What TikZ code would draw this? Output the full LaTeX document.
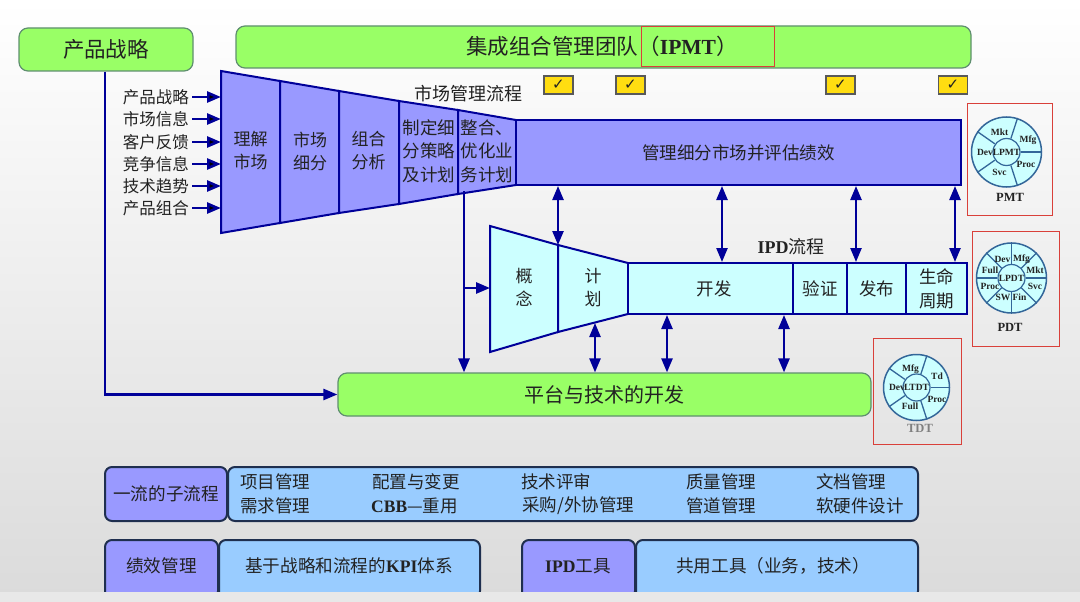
\documentclass[tikz,border=0pt]{standalone}
\usepackage{fontspec}
\setmainfont{Liberation Serif}
\newfontfamily\cjk{Noto Sans CJK SC}
\newfontfamily\dejavu{DejaVu Sans}
\newfontfamily\latinfont{Liberation Serif}
\newcommand{\latin}[1]{{\latinfont\bfseries #1}}
\usetikzlibrary{arrows.meta,shadings}
\definecolor{navy}{HTML}{000099}
\definecolor{limebox}{HTML}{99FF66}
\definecolor{limeline}{HTML}{5F8F6F}
\definecolor{violetbox}{HTML}{9999FF}
\definecolor{cyanbox}{HTML}{CCFFFF}
\definecolor{skybox}{HTML}{99CCFF}
\definecolor{darkline}{HTML}{1F2F4F}
\definecolor{wheelline}{HTML}{336699}
\definecolor{frame}{HTML}{D9403A}
\definecolor{inktext}{HTML}{222222}
\definecolor{tickfill}{HTML}{FFDD11}
\tikzset{limebar/.style = {shape=rectangle,rounded corners=9,draw=limeline,fill=limebox,line width=1.2,text=inktext,font=\fontsize{21.5}{25}\selectfont\cjk}}
\tikzset{bluebar/.style = {shape=rectangle,draw=navy,line width=2,text=inktext,align=center,font=\fontsize{17.5}{24}\selectfont\cjk}}
\tikzset{stage/.style = {text=inktext,align=center,inner sep=0,font=\fontsize{17}{23}\selectfont\cjk}}
\tikzset{tightstage/.style = {stage,font=\fontsize{17.5}{23.5}\selectfont\cjk}}
\tikzset{funnelone/.style = {draw=navy,fill=violetbox,line width=2}}
\tikzset{funneltwo/.style = {draw=navy,fill=cyanbox,line width=2}}
\tikzset{input/.style = {text=inktext,inner sep=0,anchor=east,font=\fontsize{16.5}{20}\selectfont\cjk}}
\tikzset{flowname/.style = {text=inktext,inner sep=0,font=\fontsize{18}{21}\selectfont\cjk}}
\tikzset{conn/.style = {-{Triangle[length=14,width=11]},draw=navy,line width=2.6}}
\tikzset{both/.style = {{Triangle[length=14,width=11]}-{Triangle[length=14,width=11]},draw=navy,line width=2.4}}
\tikzset{tick/.style = {shape=rectangle,draw=black!65,fill=tickfill,minimum width=29,minimum height=18,inner sep=0,line width=1.2,text=inktext,font=\fontsize{15}{15}\selectfont\dejavu\bfseries}}
\tikzset{redframe/.style = {shape=rectangle,draw=frame,line width=1}}
\tikzset{wheel/.style = {shape=circle,draw=wheelline,fill=cyanbox,line width=1.5,inner sep=0}}
\tikzset{hub/.style = {shape=circle,draw=wheelline,line width=1.2,minimum size=27,inner sep=0}}
\tikzset{spoke/.style = {draw=wheelline,line width=1.3}}
\tikzset{wlabel/.style = {text=inktext,inner sep=0,font=\fontsize{9.5}{10}\selectfont\bfseries}}
\tikzset{teamname/.style = {text=inktext,inner sep=0,font=\fontsize{12.5}{14}\selectfont\bfseries}}
\tikzset{subhead/.style = {shape=rectangle,rounded corners=7,draw=darkline,fill=violetbox,line width=2,text=inktext,font=\fontsize{17.6}{20}\selectfont\cjk}}
\tikzset{subbody/.style = {shape=rectangle,rounded corners=7,draw=darkline,fill=skybox,line width=2,text=inktext,font=\fontsize{17.6}{20}\selectfont\cjk}}
\tikzset{subitem/.style = {text=inktext,inner sep=0,anchor=west,font=\fontsize{17.5}{20}\selectfont\cjk}}
\tikzset{subtext/.style = {text=inktext,inner sep=0,font=\fontsize{17.6}{20}\selectfont\cjk}}
\begin{document}
\begin{tikzpicture}[x=1pt,y=-1pt]
  \useasboundingbox (0,0) rectangle (1080,602);
  \fill[top color=white,middle color=white!96!black,bottom color=white!86!black] (0,0) rectangle (1080,592);

  \node[limebar,minimum width=174,minimum height=43] (strategy) at (106,49.5) {产品战略};
  \node[limebar,minimum width=735,minimum height=42] (ipmt) at (603.5,47) {};
  \node[text=inktext,inner sep=0,font=\fontsize{21.5}{25}\selectfont\cjk] (ipmttext) at (602,46) {集成组合管理团队（\latin{IPMT}）};
  \node[redframe,minimum width=133,minimum height=40] (ipmtmark) at (707.5,47) {};

  \node[tick] (tick1) at (558.5,85) {✓};
  \node[tick] (tick2) at (630.5,85) {✓};
  \node[tick] (tick3) at (840.5,85) {✓};
  \node[tick] (tick4) at (953,85) {✓};

  \node[flowname] (mktname) at (468.5,94) {市场管理流程};

  \coordinate (a0) at (221,71);
  \coordinate (a1) at (280,81);
  \coordinate (a2) at (339,91);
  \coordinate (a3) at (399,101);
  \coordinate (a4) at (458,110);
  \coordinate (a5) at (516,120);
  \coordinate (b0) at (221,233);
  \coordinate (b1) at (280,223);
  \coordinate (b2) at (339,213);
  \coordinate (b3) at (399,204);
  \coordinate (b4) at (458,194);
  \coordinate (b5) at (516,185);

  \draw[funnelone] (a0) -- (a1) -- (b1) -- (b0) -- cycle;
  \draw[funnelone] (a1) -- (a2) -- (b2) -- (b1) -- cycle;
  \draw[funnelone] (a2) -- (a3) -- (b3) -- (b2) -- cycle;
  \draw[funnelone] (a3) -- (a4) -- (b4) -- (b3) -- cycle;
  \draw[funnelone] (a4) -- (a5) -- (b5) -- (b4) -- cycle;

  \node[stage] (understand) at (250.5,151) {理解\\市场};
  \node[stage] (segment) at (310,151) {市场\\细分};
  \node[stage] (portfolio) at (368.5,151) {组合\\分析};
  \node[tightstage] (segplan) at (429,151) {制定细\\分策略\\及计划};
  \node[tightstage] (optimize) at (487,151) {整合、\\优化业\\务计划};

  \node[bluebar,fill=violetbox,minimum width=445,minimum height=65] (mktbar) at (738.5,152.5) {管理细分市场并评估绩效};

  \node[input] (in1) at (189,97) {产品战略};
  \node[input] (in2) at (189,119) {市场信息};
  \node[input] (in3) at (189,142) {客户反馈};
  \node[input] (in4) at (189,164) {竞争信息};
  \node[input] (in5) at (189,186) {技术趋势};
  \node[input] (in6) at (189,208) {产品组合};
  \path[conn,shorten <=3] (in1) edge (in1 -| a0);
  \path[conn,shorten <=3] (in2) edge (in2 -| a0);
  \path[conn,shorten <=3] (in3) edge (in3 -| a0);
  \path[conn,shorten <=3] (in4) edge (in4 -| a0);
  \path[conn,shorten <=3] (in5) edge (in5 -| a0);
  \path[conn,shorten <=3] (in6) edge (in6 -| a0);

  \node[flowname] (ipdname) at (791,247) {\latin{IPD}流程};

  \coordinate (c0) at (490,226);
  \coordinate (c1) at (558,245);
  \coordinate (c2) at (628,263);
  \coordinate (d0) at (490,352);
  \coordinate (d1) at (558,332);
  \coordinate (d2) at (628,314);
  \coordinate (e0) at (490,288);
  \coordinate (e1) at (464,191);

  \draw[funneltwo] (c0) -- (c1) -- (d1) -- (d0) -- cycle;
  \draw[funneltwo] (c1) -- (c2) -- (d2) -- (d1) -- cycle;

  \node[stage] (concept) at (524,287) {概\\念};
  \node[stage] (plan) at (593,288) {计\\划};
  \node[bluebar,fill=cyanbox,minimum width=165,minimum height=51] (develop) at (710.5,288.5) {\hspace{7pt}开发};
  \node[bluebar,fill=cyanbox,minimum width=54,minimum height=51] (verify) at (820,288.5) {验证};
  \node[bluebar,fill=cyanbox,minimum width=59,minimum height=51] (launch) at (876.5,288.5) {发布};
  \node[bluebar,fill=cyanbox,minimum width=61,minimum height=51] (lifecycle) at (936.5,288.5) {生命\\周期};

  \node[limebar,font=\fontsize{20}{24}\selectfont\cjk,minimum width=533,minimum height=43] (platform) at (604.5,394.5) {平台与技术的开发};

  \coordinate (x1) at (722,0);
  \coordinate (x2) at (856,0);
  \coordinate (x3) at (955,0);
  \coordinate (x4) at (595,0);
  \coordinate (x5) at (667,0);
  \coordinate (x6) at (784,0);
  \coordinate (x7) at (105,0);
  \coordinate (junction) at (464,288);
  \coordinate (planbottom) at (595,323);

  \draw[conn] (strategy.south -| x7) |- (platform.west);
  \draw[conn] (e1) -- (platform.north -| e1);
  \draw[conn] (junction) -- (e0);
  \draw[both] (mktbar.south -| c1) -- (c1);
  \draw[both] (mktbar.south -| x1) -- (develop.north -| x1);
  \draw[both] (mktbar.south -| x2) -- (launch.north -| x2);
  \draw[both] (mktbar.south -| x3) -- (lifecycle.north -| x3);
  \draw[both] (planbottom) -- (platform.north -| x4);
  \draw[both] (develop.south -| x5) -- (platform.north -| x5);
  \draw[both] (develop.south -| x6) -- (platform.north -| x6);

  \node[redframe,minimum width=85,minimum height=111] (pmtframe) at (1009.5,159.5) {};
  \node[wheel,minimum size=70] (pmt) at (1006.5,152) {};
  \node[hub] (lpmt) at (1006.5,152) {};
  \draw[spoke] (lpmt.72) -- (pmt.72);
  \draw[spoke] (lpmt.0) -- (pmt.0);
  \draw[spoke] (lpmt.-72) -- (pmt.-72);
  \draw[spoke] (lpmt.-145) -- (pmt.-145);
  \draw[spoke] (lpmt.145) -- (pmt.145);
  \node[wlabel] (pmtcenter) at (1006.5,152) {LPMT};
  \node[wlabel] (pmtmkt) at (999.5,132) {Mkt};
  \node[wlabel] (pmtmfg) at (1028,140) {Mfg};
  \node[wlabel] (pmtproc) at (1026,164) {Proc};
  \node[wlabel] (pmtsvc) at (999.5,172) {Svc};
  \node[wlabel] (pmtdev) at (985,152) {Dev};
  \node[teamname] (pmtname) at (1010,197) {PMT};

  \node[redframe,minimum width=87,minimum height=115] (pdtframe) at (1015.5,288.5) {};
  \node[wheel,minimum size=70] (pdt) at (1011.5,278) {};
  \node[hub] (lpdt) at (1011.5,278) {};
  \draw[spoke] (lpdt.90) -- (pdt.90);
  \draw[spoke] (lpdt.45) -- (pdt.45);
  \draw[spoke] (lpdt.0) -- (pdt.0);
  \draw[spoke] (lpdt.-45) -- (pdt.-45);
  \draw[spoke] (lpdt.-90) -- (pdt.-90);
  \draw[spoke] (lpdt.-135) -- (pdt.-135);
  \draw[spoke] (lpdt.180) -- (pdt.180);
  \draw[spoke] (lpdt.135) -- (pdt.135);
  \node[wlabel] (pdtcenter) at (1011.5,278) {LPDT};
  \node[wlabel] (pdtdev) at (1002.5,259) {Dev};
  \node[wlabel] (pdtmfg) at (1021.5,259) {Mfg};
  \node[wlabel] (pdtmkt) at (1035,270) {Mkt};
  \node[wlabel] (pdtsvc) at (1035,286) {Svc};
  \node[wlabel] (pdtfin) at (1019.5,297) {Fin};
  \node[wlabel] (pdtsw) at (1003,297) {SW};
  \node[wlabel] (pdtproc) at (990,286) {Proc};
  \node[wlabel] (pdtfull) at (990,270) {Full};
  \node[teamname] (pdtname) at (1010,327) {PDT};

  \node[redframe,minimum width=88,minimum height=106] (tdtframe) at (917,391) {};
  \node[wheel,minimum size=66] (tdt) at (916.5,387.5) {};
  \node[hub] (ltdt) at (916.5,387.5) {};
  \draw[spoke] (ltdt.72) -- (tdt.72);
  \draw[spoke] (ltdt.0) -- (tdt.0);
  \draw[spoke] (ltdt.-72) -- (tdt.-72);
  \draw[spoke] (ltdt.-145) -- (tdt.-145);
  \draw[spoke] (ltdt.145) -- (tdt.145);
  \node[wlabel] (tdtcenter) at (916.5,387.5) {LTDT};
  \node[wlabel] (tdtmfg) at (910.5,369) {Mfg};
  \node[wlabel] (tdttd) at (937,376) {Td};
  \node[wlabel] (tdtproc) at (937,399) {Proc};
  \node[wlabel] (tdtfull) at (910,406) {Full};
  \node[wlabel] (tdtdev) at (897,387.5) {Dev};
  \node[teamname,text=gray] (tdtname) at (920,428) {TDT};

  \node[subhead,minimum width=122,minimum height=54] (subflow) at (166,494) {一流的子流程};
  \node[subbody,minimum width=690,minimum height=54] (subflowbody) at (573,494) {};
  \node[subitem] (item1) at (240,482) {项目管理};
  \node[subitem] (item2) at (372,482) {配置与变更};
  \node[subitem] (item3) at (521,482) {技术评审};
  \node[subitem] (item4) at (686,482) {质量管理};
  \node[subitem] (item5) at (816,482) {文档管理};
  \node[subitem] (item6) at (240,506) {需求管理};
  \node[subitem] (item7) at (371,506) {\latin{CBB}—重用};
  \node[subitem] (item8) at (522,506) {采购/外协管理};
  \node[subitem] (item9) at (686,506) {管道管理};
  \node[subitem] (item10) at (816,506) {软硬件设计};

  \node[subhead,minimum width=113,minimum height=58] (perf) at (161.5,569) {};
  \node[subbody,minimum width=261,minimum height=58] (perfbody) at (349.5,569) {};
  \node[subhead,minimum width=113,minimum height=58] (tools) at (578.5,569) {};
  \node[subbody,minimum width=282,minimum height=58] (toolsbody) at (777,569) {};

  \fill[white!91!black] (0,592) rectangle (1080,602);

  \node[subtext] (perftext) at (161.5,566) {绩效管理};
  \node[subtext] (perfbodytext) at (349,566) {基于战略和流程的\latin{KPI}体系};
  \node[subtext] (toolstext) at (578,566) {\latin{IPD}工具};
  \node[subtext] (toolsbodytext) at (773,566) {共用工具（业务，技术）};
\end{tikzpicture}
\end{document}
